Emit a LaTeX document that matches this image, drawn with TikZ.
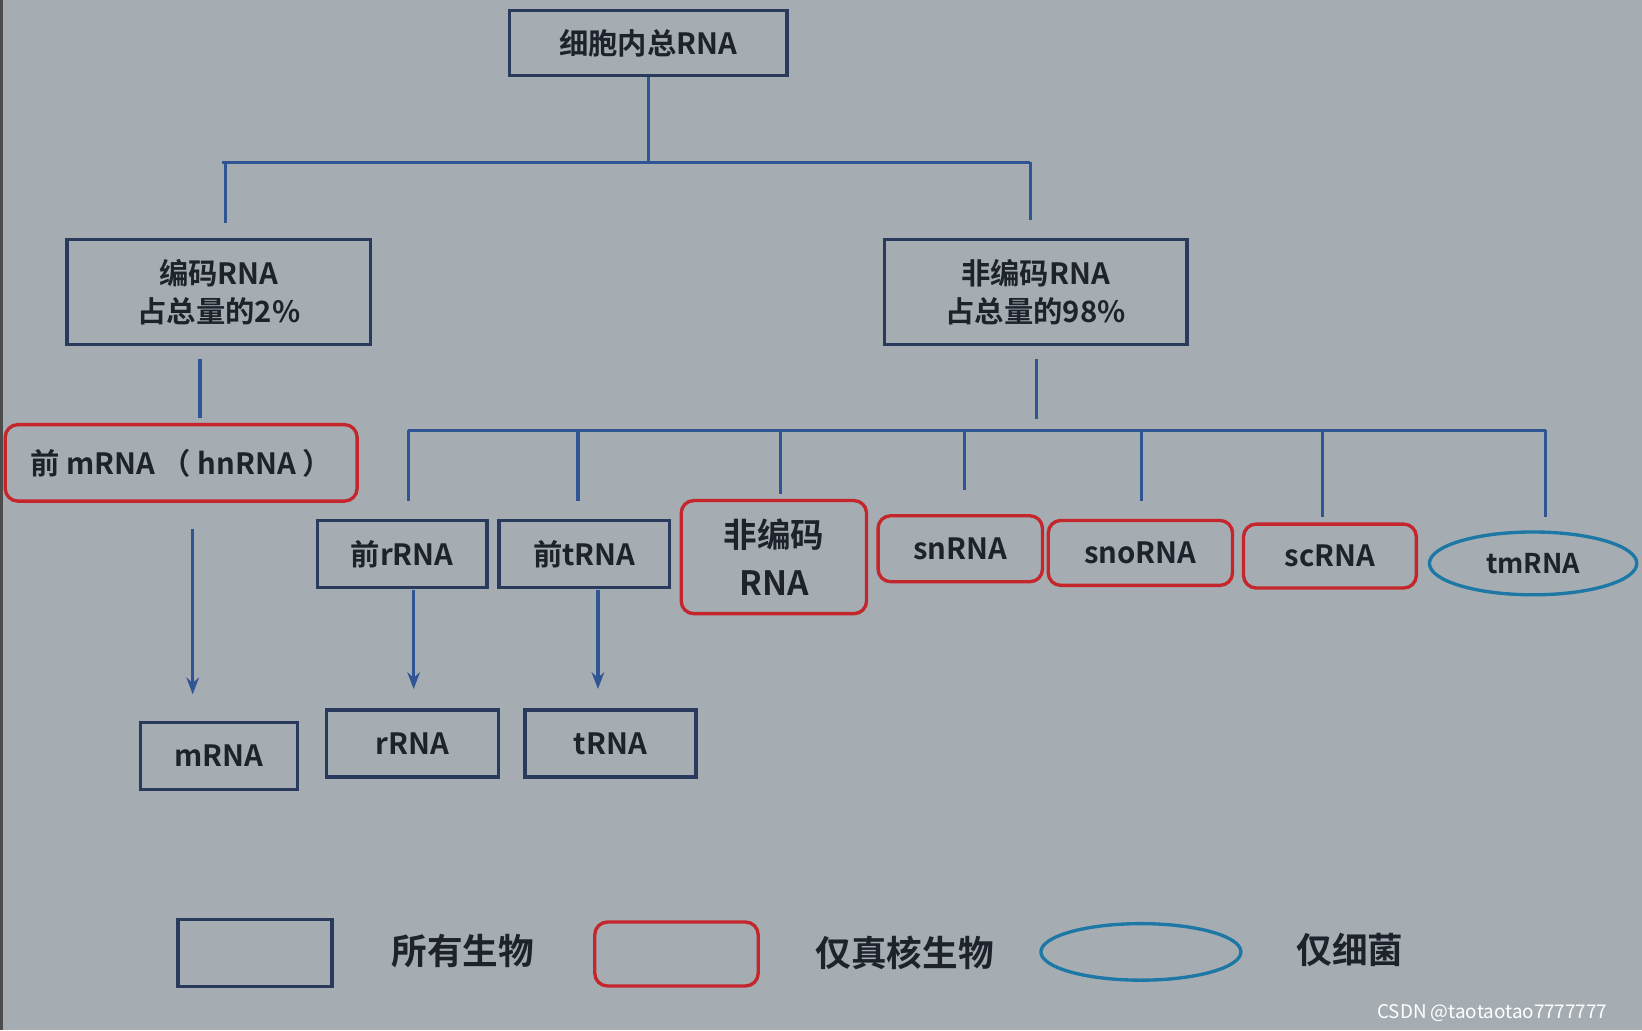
\documentclass[tikz,border=0pt]{standalone}
\usepackage{fontspec}
\setmainfont{Noto Sans CJK SC}[BoldFont={* Bold}]
\usetikzlibrary{arrows.meta,shapes.geometric}
\definecolor{bg}{HTML}{A5ADB3}
\definecolor{navy}{HTML}{2A3A5C}
\definecolor{lblue}{HTML}{2F5595}
\definecolor{myred}{HTML}{C4262B}
\definecolor{cyanb}{HTML}{1E78A6}
\definecolor{txt}{HTML}{1E232B}
\tikzset{
  bx/.style={draw=navy,line width=1.6pt,inner sep=0pt,font=\bfseries\fontsize{14}{18}\selectfont,text=txt,align=center},
  rb/.style={draw=myred,line width=1.6pt,rounded corners=6pt,inner sep=0pt,font=\bfseries\fontsize{14}{18}\selectfont,text=txt,align=center},
  el/.style={ellipse,draw=cyanb,line width=1.6pt,inner sep=0pt,font=\bfseries\fontsize{13}{16}\selectfont,text=txt},
  ln/.style={draw=lblue,line width=1.5pt},
  ar/.style={ln,-{Stealth[length=8pt,width=6pt]}},
  lg/.style={font=\bfseries\fontsize{17}{20}\selectfont,text=txt}
}
\begin{document}
\begin{tikzpicture}[x=0.5pt,y=-0.5pt]
\fill[bg] (0,0) rectangle (1568,984);
\fill[black!70] (0,0) rectangle (3,984);
\node[bx,minimum width=132.5pt,minimum height=31pt] (top) at (619,41) {细胞内总RNA};
\node[bx,minimum width=145pt,minimum height=50pt] (cod) at (209,279) {编码RNA\\占总量的2\%};
\node[bx,minimum width=144.5pt,minimum height=50pt] (non) at (989,279) {非编码RNA\\占总量的98\%};
\node[rb,minimum width=168pt,minimum height=36.5pt] (pre) at (173,442) {前 mRNA （ hnRNA ）};
\node[bx,minimum width=81pt,minimum height=32pt] (prer) at (384,529) {前rRNA};
\node[bx,minimum width=81.5pt,minimum height=32pt] (pret) at (558,529) {前tRNA};
\node[rb,minimum width=88.5pt,minimum height=54pt,font=\bfseries\fontsize{16}{23}\selectfont] (fbm) at (739,532) {非编码\\RNA};
\node[rb,minimum width=78.5pt,minimum height=31.5pt] (sn) at (917,524) {snRNA};
\node[rb,minimum width=88pt,minimum height=31pt] (sno) at (1089,528) {snoRNA};
\node[rb,minimum width=82.5pt,minimum height=30.5pt] (sc) at (1270,531) {scRNA};
\node[el,minimum width=99pt,minimum height=30pt] (tm) at (1464,538) {tmRNA};
\node[bx,minimum width=75pt,minimum height=32pt] (m) at (209,722) {mRNA};
\node[bx,minimum width=82pt,minimum height=32pt] (r) at (394,710) {rRNA};
\node[bx,minimum width=81.5pt,minimum height=32pt] (t) at (583,710) {tRNA};
% connectors
\coordinate (h1) at (212,155); \coordinate (h2) at (984,155);
\draw[ln] (top.south) -- (619,155);
\draw[ln] (h1) -- (h2);
\draw[ln] (215,155) -- (215,213);
\draw[ln] (984,155) -- (984,210);
\draw[ln] (191,343) -- (191,399);
\draw[ln] (990,343) -- (990,400);
\draw[ln] (390,411) -- (1476,411);
\foreach \x/\y in {390/478,552/478,745/472,921/468,1090/478,1263/494,1476/494}
  \draw[ln] (\x,411) -- (\x,\y);
\draw[ar] (184,505) -- (184,663);
\draw[ar] (395,563) -- (395,658);
\draw[ar] (571,563) -- (571,658);
% legend
\node[bx,minimum width=73.5pt,minimum height=32pt] (l1) at (243.5,910) {};
\node[lg] (t1) at (442,908) {所有生物};
\node[rb,minimum width=78pt,minimum height=30.5pt] (l2) at (646,911) {};
\node[lg] (t2) at (864,910) {仅真核生物};
\node[el,minimum width=95.5pt,minimum height=27pt] (l3) at (1089.5,909) {};
\node[lg] (t3) at (1289,907) {仅细菌};
\node[font=\fontsize{9}{11}\selectfont,text=white] (wm) at (1425,967) {CSDN @taotaotao7777777};
\end{tikzpicture}
\end{document}
